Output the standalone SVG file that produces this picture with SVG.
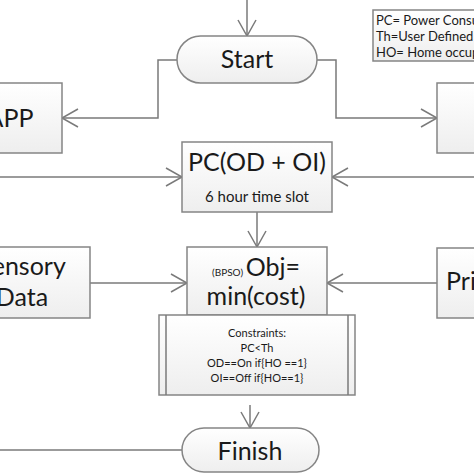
<svg xmlns="http://www.w3.org/2000/svg" width="474" height="474" viewBox="0 0 474 474">
<defs>
<linearGradient id="g" x1="0" y1="0" x2="0" y2="1">
<stop offset="0" stop-color="#ffffff"/>
<stop offset="1" stop-color="#eeeeee"/>
</linearGradient>
<marker id="arr" markerUnits="userSpaceOnUse" markerWidth="20" markerHeight="20" viewBox="-17 -10 20 20" refX="0" refY="0" orient="auto" overflow="visible">
<path d="M -16 -9 L 0 0 L -16 9" fill="none" stroke="#7a7a7a" stroke-width="1.5"/>
</marker>
<style>
.box{fill:url(#g);stroke:#858585;stroke-width:1.5}
.ln{fill:none;stroke:#7a7a7a;stroke-width:1.5}
.t{font-family:Lato,"Open Sans",sans-serif;fill:#1a1a1a}
.big{font-size:25px}
.mid{font-size:15px}
.sm{font-size:11px}
</style>
</defs>
<rect width="474" height="474" fill="#ffffff"/>
<g id="connectors">
<path class="ln" d="M247 0 V36" marker-end="url(#arr)"/>
<path class="ln" d="M177 60 H158 V118 H62" marker-end="url(#arr)"/>
<path class="ln" d="M317 60 H336 V118 H437" marker-end="url(#arr)"/>
<path class="ln" d="M0 177 H182" marker-end="url(#arr)"/>
<path class="ln" d="M474 177 H332" marker-end="url(#arr)"/>
<path class="ln" d="M257 212 V247" marker-end="url(#arr)"/>
<path class="ln" d="M90 283 H187" marker-end="url(#arr)"/>
<path class="ln" d="M437 283 H327" marker-end="url(#arr)"/>
<path class="ln" d="M250 405 V428" marker-end="url(#arr)"/>
<path class="ln" d="M182 450 H0"/>
</g>
<g id="legend">
<rect class="box" x="373" y="10" width="110" height="51"/>
<text class="t" font-size="13" x="376" y="25">PC= Power Consumption</text>
<text class="t" font-size="13" x="376" y="41">Th=User Defined Threshold</text>
<text class="t" font-size="13" x="376" y="57">HO= Home occupancy</text>
</g>
<g id="start">
<rect class="box" x="177" y="36" width="140" height="47" rx="23.5"/>
<text class="t big" x="247" y="68" text-anchor="middle">Start</text>
</g>
<g id="app">
<rect class="box" x="-5" y="83" width="67" height="70"/>
<text class="t big" x="10" y="127" text-anchor="middle">APP</text>
</g>
<g id="right-top">
<rect class="box" x="437" y="83" width="50" height="70"/>
</g>
<g id="pc">
<rect class="box" x="182" y="142" width="150" height="70"/>
<text class="t big" x="257" y="171" text-anchor="middle">PC(OD + OI)</text>
<text class="t mid" x="257" y="202" text-anchor="middle">6 hour time slot</text>
</g>
<g id="sensory">
<rect class="box" x="-5" y="247" width="95" height="71"/>
<text class="t big" x="22" y="275" text-anchor="middle">Sensory</text>
<text class="t big" x="22" y="306" text-anchor="middle">Data</text>
</g>
<g id="pri">
<rect class="box" x="437" y="248" width="50" height="70"/>
<text class="t big" x="446" y="290">Pri</text>
</g>
<g id="obj">
<rect class="box" x="187" y="247" width="140" height="68"/>
<text class="t" x="256" y="276" text-anchor="middle"><tspan font-size="10">(BPSO) </tspan><tspan font-size="25">Obj=</tspan></text>
<text class="t big" x="256" y="305" text-anchor="middle">min(cost)</text>
</g>
<g id="constraints">
<rect class="box" x="159" y="315" width="196" height="80"/>
<line class="ln" x1="166" y1="315" x2="166" y2="395"/>
<line class="ln" x1="348" y1="315" x2="348" y2="395"/>
<text class="t sm" x="257" y="337" text-anchor="middle">Constraints:</text>
<text class="t sm" x="257" y="352" text-anchor="middle">PC&lt;Th</text>
<text class="t sm" x="257" y="367" text-anchor="middle">OD==On if{HO ==1}</text>
<text class="t sm" x="257" y="382" text-anchor="middle">OI==Off if{HO==1}</text>
</g>
<g id="finish">
<rect class="box" x="182" y="428" width="137" height="44" rx="22"/>
<text class="t big" x="250" y="460" text-anchor="middle">Finish</text>
</g>
</svg>
